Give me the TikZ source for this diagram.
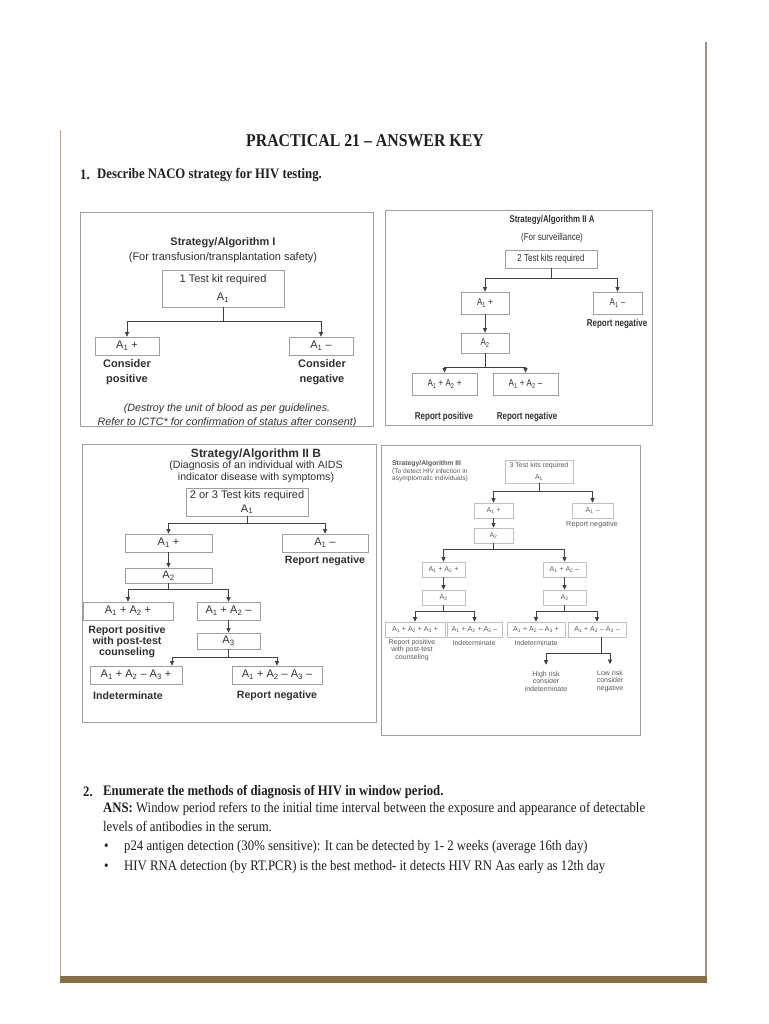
\documentclass[tikz,border=0pt]{standalone}
\usepackage{fontspec}
\setmainfont{Liberation Serif}
\newfontfamily\pserif{Liberation Serif}[FakeStretch=0.88]
\newfontfamily\dsans{Liberation Sans}
\newfontfamily\dnarrow{Liberation Sans}[FakeStretch=0.8]
\usetikzlibrary{arrows.meta}
\definecolor{ink}{HTML}{303030}
\definecolor{inkIII}{HTML}{5A5A5A}
\definecolor{wood}{RGB}{138,110,70}
\definecolor{paperedge}{RGB}{185,165,130}
\newcommand\setfs[2]{\fontsize{#1}{#2}\selectfont}
\begin{document}
\begin{tikzpicture}[x=1pt,y=-1pt,
  frame/.style={draw=black!38, line width=0.9pt},
  bx/.style={draw=black!38, line width=0.7pt, inner sep=0pt, text=ink, align=center},
  bxIII/.style={draw=black!25, line width=0.6pt, inner sep=0pt, text=inkIII, align=center, minimum height=15pt, font=\dsans\setfs{7}{12}},
  link/.style={draw=black!75, line width=0.6pt, -{Triangle[width=4pt,length=4.5pt]}},
  txt/.style={inner sep=0pt, text=ink, align=center},
  txtIII/.style={inner sep=0pt, text=inkIII, align=center, font=\dsans\setfs{7}{7.5}},
  ptxt/.style={inner sep=0pt, anchor=west, text=black!88},
  fI/.style={font=\dsans\setfs{11}{13}},
  fIb/.style={font=\dsans\bfseries\setfs{11}{15}},
  fA/.style={font=\dnarrow\setfs{10}{12}},
  fAb/.style={font=\dnarrow\bfseries\setfs{10}{12}},
  fB/.style={font=\dsans\setfs{11}{14}},
  fBb/.style={font=\dsans\bfseries\setfs{10.6}{11}},
  hd/.style={font=\pserif\bfseries\setfs{14.5}{16}},
  bd/.style={font=\pserif\setfs{14.5}{16}}
]
\useasboundingbox (0,0) rectangle (768,1024);
\fill[white] (0,0) rectangle (768,1024);
% paper edges
\draw[paperedge, line width=0.8pt] (60,130) -- (60,977);
\draw[wood!75, line width=1.6pt] (706,42) -- (706,977);
\fill[wood] (60,976) rectangle (707,983);

% page text
\node[inner sep=0pt, text=black!88, font=\pserif\bfseries\setfs{18}{20}] (title) at (365,141) {PRACTICAL 21 – ANSWER KEY};
\node[ptxt, hd] (q1n) at (80,175) {1.};
\node[ptxt, hd] (q1) at (97,175) {Describe NACO strategy for HIV testing.};
\node[ptxt, hd] (q2n) at (83,792) {2.};
\node[ptxt, hd] (q2) at (103,792) {Enumerate the methods of diagnosis of HIV in window period.};
\node[ptxt, bd] (ans1) at (103,809) {\textbf{ANS:} Window period refers to the initial time interval between the exposure and appearance of detectable};
\node[ptxt, bd] (ans2) at (103,826) {levels of antibodies in the serum.};
\node[ptxt, bd] (b1d) at (104,847) {•};
\node[ptxt, bd] (b1) at (124,847) {p24 antigen detection (30\% sensitive): It can be detected by 1- 2 weeks (average 16th day)};
\node[ptxt, bd] (b2d) at (104,867) {•};
\node[ptxt, bd] (b2) at (124,867) {HIV RNA detection (by RT.PCR) is the best method- it detects HIV RN Aas early as 12th day};

% ===== Algorithm I =====
\node[txt, font=\dsans\bfseries\setfs{11}{13}] (Ititle) at (223,243) {Strategy/Algorithm I};
\node[txt, fI] (Isub) at (223,258) {(For transfusion/transplantation safety)};
\node[bx, font=\dsans\setfs{11}{18}, minimum width=122pt, minimum height=37pt] (Ikit) at (223,288.5) {1 Test kit required\\A\textsubscript{1}};
\node[bx, fI, minimum width=64pt, minimum height=18pt] (Ip) at (127,346) {A\textsubscript{1} +};
\node[bx, fI, minimum width=64pt, minimum height=18pt] (In) at (321,346) {A\textsubscript{1} –};
\draw[link] (Ikit.south) -- ++(0,14) -| (Ip.north);
\draw[link] (Ikit.south) -- ++(0,14) -| (In.north);
\node[txt, fIb] (Ipt) at (127,372.5) {Consider\\positive};
\node[txt, fIb] (Int) at (322,372.5) {Consider\\negative};
\node[txt, font=\dsans\itshape\setfs{10.7}{14}] (Inote) at (227,415.5) {(Destroy the unit of blood as per guidelines.\\Refer to ICTC* for confirmation of status after consent)};
\draw[frame] (80,212) rectangle (373,426);

% ===== Algorithm II A =====
\node[txt, font=\dnarrow\bfseries\setfs{9.8}{12}] (IIAtitle) at (552,220) {Strategy/Algorithm II A};
\node[txt, fA] (IIAsub) at (552,238) {(For surveillance)};
\node[bx, fA, minimum width=92pt, minimum height=18pt] (IIAkit) at (551,259) {2 Test kits required};
\node[bx, fA, minimum width=48pt, minimum height=22pt] (IIAp) at (485,303) {A\textsubscript{1} +};
\node[bx, fA, minimum width=49pt, minimum height=22pt] (IIAn) at (617.5,303) {A\textsubscript{1} –};
\draw[link] (IIAkit.south) -- ++(0,10) -| (IIAp.north);
\draw[link] (IIAkit.south) -- ++(0,10) -| (IIAn.north);
\node[txt, fAb] (IIAnt) at (617,324) {Report negative};
\node[bx, fA, minimum width=48pt, minimum height=20pt] (IIAa2) at (485,343) {A\textsubscript{2}};
\draw[link] (IIAp.south) -- (IIAa2.north);
\node[bx, fA, minimum width=65pt, minimum height=22pt] (IIApp) at (444.5,384) {A\textsubscript{1} + A\textsubscript{2} +};
\node[bx, fA, minimum width=65pt, minimum height=22pt] (IIApn) at (525.5,384) {A\textsubscript{1} + A\textsubscript{2} –};
\draw[link] (IIAa2.south) -- ++(0,14) -| (IIApp.north);
\draw[link] (IIAa2.south) -- ++(0,14) -| (IIApn.north);
\node[txt, fAb] (IIApt) at (444,417) {Report positive};
\node[txt, fAb] (IIAnt2) at (527,417) {Report negative};
\draw[frame] (385,210) rectangle (652,425);

% ===== Algorithm II B =====
\node[txt, font=\dsans\bfseries\setfs{12}{13}] (IIBtitle) at (256,454) {Strategy/Algorithm II B};
\node[txt, font=\dsans\setfs{10.6}{11.5}] (IIBsub) at (256,472) {(Diagnosis of an individual with AIDS\\indicator disease with symptoms)};
\node[bx, font=\dsans\setfs{11}{14}, minimum width=122pt, minimum height=28pt] (IIBkit) at (247,502) {2 or 3 Test kits required\\A\textsubscript{1}};
\node[bx, fB, minimum width=87pt, minimum height=18pt] (IIBp) at (168.5,543) {A\textsubscript{1} +};
\node[bx, fB, minimum width=86pt, minimum height=18pt] (IIBn) at (325,543) {A\textsubscript{1} –};
\draw[link] (IIBkit.south) -- ++(0,7) -| (IIBp.north);
\draw[link] (IIBkit.south) -- ++(0,7) -| (IIBn.north);
\node[txt, fBb] (IIBnt) at (325,561) {Report negative};
\node[bx, fB, minimum width=87pt, minimum height=15pt] (IIBa2) at (168.5,575.5) {A\textsubscript{2}};
\draw[link] (IIBp.south) -- (IIBa2.north);
\node[bx, fB, minimum width=90pt, minimum height=18pt] (IIBpp) at (128,611) {A\textsubscript{1} + A\textsubscript{2} +};
\node[bx, fB, minimum width=63pt, minimum height=18pt] (IIBpn) at (228.5,611) {A\textsubscript{1} + A\textsubscript{2} –};
\draw[link] (IIBa2.south) -- ++(0,6) -| (IIBpp.north);
\draw[link] (IIBa2.south) -- ++(0,6) -| (IIBpn.north);
\node[txt, fBb] (IIBpt) at (127,642) {Report positive\\with post-test\\counseling};
\node[bx, fB, minimum width=63pt, minimum height=16pt] (IIBa3) at (228.5,641) {A\textsubscript{3}};
\draw[link] (IIBpn.south) -- (IIBa3.north);
\node[bx, fB, minimum width=92pt, minimum height=18pt] (IIBq1) at (136,675) {A\textsubscript{1} + A\textsubscript{2} – A\textsubscript{3} +};
\node[bx, fB, minimum width=90pt, minimum height=18pt] (IIBq2) at (277,675) {A\textsubscript{1} + A\textsubscript{2} – A\textsubscript{3} –};
\draw[link] (IIBa3.south) -- ++(0,8) -| ([xshift=36pt]IIBq1.north);
\draw[link] (IIBa3.south) -- ++(0,8) -| (IIBq2.north);
\node[txt, fBb] (IIBit) at (128,696) {Indeterminate};
\node[txt, fBb] (IIBnt2) at (277,696) {Report negative};
\draw[frame] (82,444) rectangle (376,722);

% ===== Algorithm III =====
\node[txt, anchor=west, text=inkIII, font=\dsans\bfseries\setfs{6.8}{8}] (IIItitle) at (392,464) {Strategy/Algorithm III};
\node[txt, anchor=west, text=inkIII, font=\dsans\setfs{6.6}{7}] (IIIsub1) at (392,472) {(To detect HIV infection in};
\node[txt, anchor=west, text=inkIII, font=\dsans\setfs{6.6}{7}] (IIIsub2) at (392,479) {asymptomatic individuals)};
\node[bxIII, minimum width=68pt, minimum height=23pt] (IIIkit) at (539,471.5) {3 Test kits required\\A\textsubscript{1}};
\node[bxIII, minimum width=39pt] (IIIp) at (493.5,510.5) {A\textsubscript{1} +};
\node[bxIII, minimum width=41pt] (IIIn) at (592.5,510.5) {A\textsubscript{1} –};
\draw[link] (IIIkit.south) -- ++(0,8) -| (IIIp.north);
\draw[link] (IIIkit.south) -- ++(0,8) -| (IIIn.north);
\node[txtIII, font=\dsans\setfs{7.3}{8}] (IIInt) at (592,525) {Report negative};
\node[bxIII, minimum width=39pt] (IIIa2) at (493.5,535.5) {A\textsubscript{2}};
\draw[link] (IIIp.south) -- (IIIa2.north);
\node[bxIII, minimum width=43pt] (IIIpp) at (443.5,569.5) {A\textsubscript{1} + A\textsubscript{2} +};
\node[bxIII, minimum width=43pt] (IIIpn) at (564.5,569.5) {A\textsubscript{1} + A\textsubscript{2} –};
\draw[link] (IIIa2.south) -- ++(0,6) -| (IIIpp.north);
\draw[link] (IIIa2.south) -- ++(0,6) -| (IIIpn.north);
\node[bxIII, minimum width=43pt] (IIIa3L) at (443.5,597.5) {A\textsubscript{3}};
\node[bxIII, minimum width=43pt] (IIIa3R) at (564.5,597.5) {A\textsubscript{3}};
\draw[link] (IIIpp.south) -- (IIIa3L.north);
\draw[link] (IIIpn.south) -- (IIIa3R.north);
\node[bxIII, minimum width=60pt] (IIIr1) at (415,629.5) {A\textsubscript{1} + A\textsubscript{2} + A\textsubscript{3} +};
\node[bxIII, minimum width=55pt] (IIIr2) at (474.5,629.5) {A\textsubscript{1} + A\textsubscript{2} + A\textsubscript{3} –};
\node[bxIII, minimum width=58pt] (IIIr3) at (536,629.5) {A\textsubscript{1} + A\textsubscript{2} – A\textsubscript{3} +};
\node[bxIII, minimum width=58pt] (IIIr4) at (597,629.5) {A\textsubscript{1} + A\textsubscript{2} – A\textsubscript{3} –};
\draw[link] (IIIa3L.south) -- ++(0,6) -| (IIIr1.north);
\draw[link] (IIIa3L.south) -- ++(0,6) -| (IIIr2.north);
\draw[link] (IIIa3R.south) -- ++(0,6) -| (IIIr3.north);
\draw[link] (IIIa3R.south) -- ++(0,6) -| (IIIr4.north);
\node[txtIII] (IIIpt) at (412,650) {Report positive\\with post-test\\counseling};
\node[txtIII] (IIIi1) at (474,643) {Indeterminate};
\node[txtIII] (IIIi2) at (536,643) {Indeterminate};
\node[txtIII] (IIIhi) at (546,681) {High risk\\consider\\indeterminate};
\node[txtIII] (IIIlo) at (610,681) {Low risk\\consider\\negative};
\draw[link] ([xshift=4pt]IIIr4.south) -- ++(0,16) -| ([yshift=6pt]IIIhi.north);
\draw[link] ([xshift=4pt]IIIr4.south) -- ++(0,16) -| ([yshift=6pt]IIIlo.north);
\draw[frame] (381,445) rectangle (640,735);
\end{tikzpicture}
\end{document}
